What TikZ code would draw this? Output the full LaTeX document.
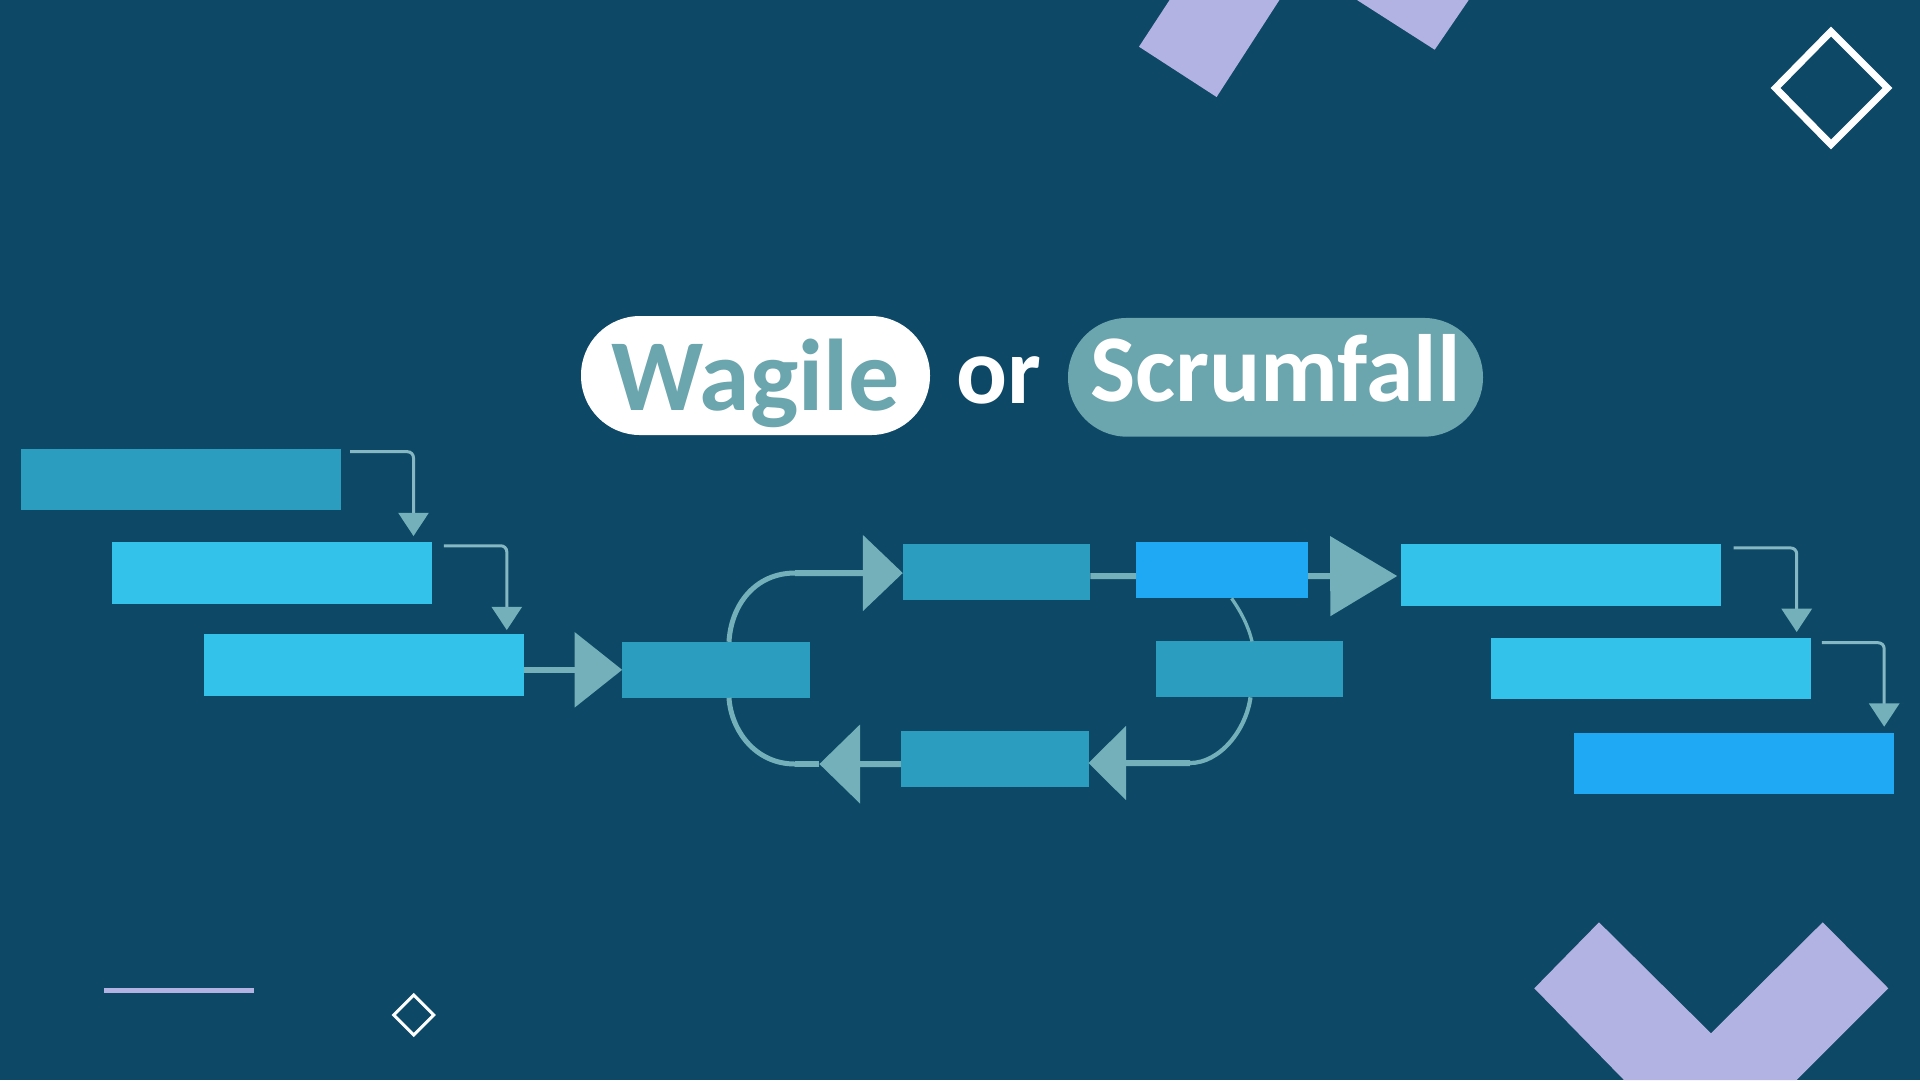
\documentclass[tikz,border=0pt]{standalone}
\usepackage{fontspec}
\setmainfont{Carlito}
\usetikzlibrary{arrows.meta,positioning,calc}
\definecolor{bgblue}{HTML}{0D4866}
\definecolor{bardark}{HTML}{2B9EBF}
\definecolor{barlight}{HTML}{33C3EA}
\definecolor{barhot}{HTML}{1FA9F5}
\definecolor{tealline}{HTML}{73B0BA}
\definecolor{elbowline}{HTML}{86B8C4}
\definecolor{tealpill}{HTML}{6BA5AD}
\definecolor{lilac}{HTML}{B3B3E3}
\tikzset{
  bar/.style={rectangle, inner sep=0pt, outer sep=0pt, minimum width=32mm, minimum height=6.16mm},
  loopbar/.style={rectangle, inner sep=0pt, outer sep=0pt, minimum width=18.76mm, minimum height=5.6mm, fill=bardark},
  elbow/.style={draw=elbowline, line width=0.3mm, rounded corners=0.6mm, -{Triangle[length=2.33mm,width=3mm,color=tealline]}},
  flow/.style={draw=tealline, fill=tealline, line width=0.6mm},
  arcline/.style={draw=tealline, line width=0.5mm},
  pill/.style={rectangle, rounded corners=5.9mm, inner sep=0pt}
}
\begin{document}
\begin{tikzpicture}[x=0.1mm,y=-0.1mm]
\useasboundingbox (0,0) rectangle (1920,1080);
\fill[bgblue] (0,0) rectangle (1920,1080);

% Decoration
\fill[lilac] (1169.6,0) -- (1279.4,0) -- (1216.6,97) -- (1139,46.7) -- cycle;
\fill[lilac] (1357,0) -- (1468.7,0) -- (1434.7,49.7) -- cycle;
\fill[lilac] (1599,922.3) -- (1711,1033.3) -- (1822.7,922.3) -- (1888.3,988.3) -- (1796.7,1080) -- (1624,1080) -- (1534.3,988.3) -- cycle;
\draw[white, line width=0.7mm] (1831,31.5) -- (1887.5,88) -- (1831,144.5) -- (1775.5,88) -- cycle;
\draw[white, line width=0.3mm] (413.7,995) -- (433.7,1015) -- (413.7,1035) -- (393.7,1015) -- cycle;
\draw[lilac, line width=0.45mm] (104,990.3) -- (254,990.3);

% Title
\node[pill, fill=white, text=tealpill, minimum width=34.9cm/10, text height=9.4mm, text depth=2.5mm, font=\bfseries\fontsize{29}{33}\selectfont] (wagile) at (755.5,375.5) {Wagile};
\node[pill, fill=tealpill, text=white, minimum width=41.5cm/10, text height=8.4mm, text depth=3.47mm, font=\bfseries\fontsize{27.2}{31}\selectfont] (scrumfall) at (1275.5,377.3) {Scrumfall};
\node[text=white, inner sep=0pt, anchor=base, font=\bfseries\fontsize{27}{31}\selectfont] (orword) at (998.5,403) {or};

% Waterfall in
\node[bar, fill=bardark] (barA) at (181.4,479.5) {};
\node[bar, fill=barlight] (barB) at (271.9,573.15) {};
\node[bar, fill=barlight] (barC) at (364.2,665.15) {};
\draw[elbow] ([xshift=0.86mm,yshift=-0.3mm]barA.north east) -| ([xshift=-1.84mm,yshift=0.63mm]barB.north east);
\draw[elbow] ([xshift=1.2mm,yshift=-0.34mm]barB.north east) -| ([xshift=-1.74mm,yshift=0.43mm]barC.north east);

% Sprint loop
\node[loopbar] (loopW) at (716,669.8) {};
\node[loopbar] (loopN) at (996.6,571.7) {};
\node[loopbar, fill=barhot, minimum width=17.2mm, minimum height=5.63mm] (loopH) at (1222,570.2) {};
\node[loopbar] (loopE) at (1249.5,669.3) {};
\node[loopbar] (loopS) at (994.7,759.2) {};
\coordinate (cornerNW) at (795,573);
\coordinate (cornerSW) at (819.4,764);
\coordinate (cornerSE) at (1190,763);

\draw[flow, -{Triangle[length=4.75mm,width=7.4mm]}] (barC.east |- loopW.west) -- (loopW.west);
\draw[arcline] ([xshift=1.3mm]loopW.north) .. controls (731,605) and (755,573) .. (cornerNW);
\draw[flow, -{Triangle[length=4mm,width=7.5mm]}] (cornerNW) -- ([yshift=-0.13mm]loopN.west);
\draw[flow] ([yshift=-0.43mm]loopN.east) -- ([yshift=-0.6mm]loopH.west);
\draw[arcline, line width=0.33mm] ([xshift=0.96mm]loopH.south) .. controls (1241,612) and (1248,625) .. ([xshift=0.25mm]loopE.north);
\draw[arcline, line width=0.42mm] ([xshift=0.1mm]loopE.south) .. controls (1246,730) and (1220,763) .. (cornerSE);
\draw[flow, -{Triangle[length=3.75mm,width=7.3mm]}] (cornerSE) -- ([yshift=-0.38mm]loopS.east);
\draw[flow, -{Triangle[length=4.06mm,width=7.77mm]}] ([yshift=-0.48mm]loopS.west) -- (cornerSW);
\draw[flow] (cornerSW) -- (795,764);
\draw[arcline] (795,764) .. controls (755,764) and (731,730) .. ([xshift=1.3mm]loopW.south);

% Waterfall out
\node[bar, fill=barlight] (barD) at (1561.2,574.7) {};
\node[bar, fill=barlight] (barE) at (1651,668.5) {};
\node[bar, fill=barhot] (barF) at (1734.2,763.5) {};
\draw[flow, -{Triangle[length=6.7mm,width=7.87mm]}] ([yshift=-0.6mm]loopH.east) -- ([xshift=-0.4mm,yshift=-0.13mm]barD.west);
\draw[elbow] ([xshift=1.24mm,yshift=-0.4mm]barD.north east) -| ([xshift=-1.43mm,yshift=0.57mm]barE.north east);
\draw[elbow] ([xshift=1.08mm,yshift=-0.5mm]barE.north east) -| ([xshift=-1mm,yshift=0.6mm]barF.north east);
\end{tikzpicture}
\end{document}
